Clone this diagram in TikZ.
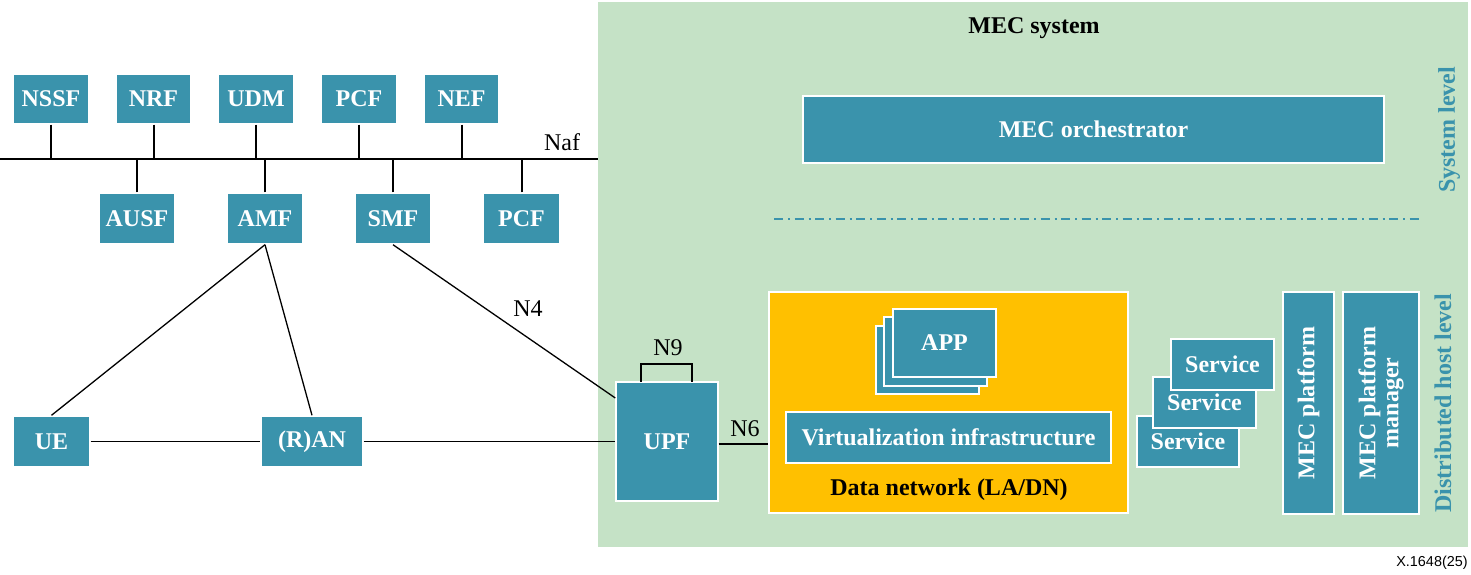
\documentclass[tikz,border=0pt]{standalone}
\usepackage{fontspec}
\setmainfont{Liberation Serif}
\newfontfamily\arialfont{Liberation Sans}
\usetikzlibrary{fit,calc}
\definecolor{mecteal}{HTML}{3A93AC}
\definecolor{mecgreen}{HTML}{C5E2C6}
\definecolor{mecorange}{HTML}{FFC000}
\tikzset{
  box/.style={fill=mecteal, draw=white, line width=0.7pt, inner sep=0pt},
  boxtext/.style={text=white, font=\fontsize{12}{12}\selectfont\bfseries, inner sep=0pt},
  bus/.style={line width=1pt, black},
  conn/.style={line width=0.65pt, black},
  lbl/.style={font=\fontsize{12}{12}\selectfont, inner sep=0pt},
  blbl/.style={font=\fontsize{12}{12}\selectfont\bfseries, inner sep=0pt},
  vlbl/.style={font=\fontsize{12}{12}\selectfont\bfseries, text=mecteal, rotate=90, inner sep=0pt},
  vbox/.style={font=\fontsize{12}{11.5}\selectfont\bfseries, text=white, rotate=90, inner sep=0pt, align=center}
}
\begin{document}
\begin{tikzpicture}[x=0.5pt,y=-0.5pt]
\useasboundingbox (0,0) rectangle (1471,574);
% MEC system background
\fill[mecgreen] (598,2) rectangle (1468,547);
\node[blbl] (mecsys) at (1034,28) {MEC system};

% top row
\node[box, fit={(13,74) (89,124)}, label={[boxtext]center:NSSF}] (nssf) {};
\node[box, fit={(116,74) (191,124)}, label={[boxtext]center:NRF}] (nrf) {};
\node[box, fit={(218,74) (294,124)}, label={[boxtext]center:UDM}] (udm) {};
\node[box, fit={(321,74) (397,124)}, label={[boxtext]center:PCF}] (pcfa) {};
\node[box, fit={(424,74) (499,124)}, label={[boxtext]center:NEF}] (nef) {};
% bottom row
\node[box, fit={(99,193) (175,244)}, label={[boxtext]center:AUSF}] (ausf) {};
\node[box, fit={(227,193) (303,244)}, label={[boxtext]center:AMF}] (amf) {};
\node[box, fit={(355,193) (431,244)}, label={[boxtext]center:SMF}] (smf) {};
\node[box, fit={(483,193) (560,244)}, label={[boxtext]center:PCF}] (pcfb) {};

% bus
\coordinate (busL) at (0,159);
\coordinate (busR) at (598,159);
\draw[bus] (busL) -- (busR);
\node[lbl] (naf) at (562,142) {Naf};
\foreach \n in {nssf,nrf,udm,pcfa,nef}{
  \draw[bus] (\n.south) -- (\n.south |- busL);
}
\foreach \n in {ausf,amf,smf,pcfb}{
  \draw[bus] (\n.north) -- (\n.north |- busL);
}

% access
\node[box, fit={(13,416) (90,467)}, label={[boxtext]center:UE}] (ue) {};
\node[box, fit={(261,416) (363,467)}, label={[boxtext]center:(R)AN}] (ran) {};
\node[box, fit={(616,382) (718,501)}, label={[boxtext]center:UPF}] (upf) {};

\draw[conn] (amf.south) -- (ue.north);
\draw[conn] (amf.south) -- (ran.north);
\draw[conn] (smf.south) -- ([yshift=21.75pt]upf.west);
\node[lbl] (n4) at (528,309) {N4};
\draw[conn] (ue.east) -- (ran.west);
\draw[conn] (ran.east) -- (upf.west);

% N9 loop
\coordinate (n9a) at (641,382);
\coordinate (n9b) at (692,382);
\draw[conn] (n9a) -- ++(0,-18) -| (n9b);
\node[lbl] (n9) at (668,348) {N9};

% data network
\node[box, fill=mecorange, fit={(769,292) (1128,513)}] (dn) {};
\node[blbl] (dnl) at (949,490) {Data network (LA/DN)};
\draw[conn] ([yshift=-1.2pt]upf.east) -- ([yshift=-1.2pt]upf.east -| dn.west);
\node[lbl] (n6) at (745,429) {N6};

\node[box, fit={(876,326) (979,394)}] (app3) {};
\node[box, fit={(884,317) (987,386)}] (app2) {};
\node[box, fit={(893,309) (996,377)}, label={[boxtext]center:APP}] (app1) {};
\node[box, fit={(786,412) (1111,463)}, label={[boxtext]center:Virtualization infrastructure}] (virt) {};

% services
\node[box, fit={(1137,416) (1239,467)}, label={[boxtext]center:Service}] (svc3) {};
\node[box, fit={(1153,377) (1256,428)}, label={[boxtext]center:Service}] (svc2) {};
\node[box, fit={(1171,339) (1274,390)}, label={[boxtext]center:Service}] (svc1) {};

% platform
\node[box, fit={(1283,292) (1334,514)}] (plat) {};
\node[vbox] (platl) at (plat.center) {MEC platform};
\node[box, fit={(1343,292) (1419,514)}] (pman) {};
\node[vbox] (pmanl) at (pman.center) {MEC platform\\manager};

% orchestrator
\node[box, fit={(803,96) (1384,163)}, label={[boxtext]center:MEC orchestrator}] (orch) {};

% level separator
\coordinate (sepL) at (774,219);
\coordinate (sepR) at (1419,219);
\draw[mecteal, line width=0.65pt, dash pattern=on 4.5pt off 2.5pt on 1pt off 2.25pt] (sepL) -- (sepR);

\node[vlbl] (syslvl) at (1449,130) {System level};
\node[vlbl] (hostlvl) at (1443,403) {Distributed host level};

\node[font=\arialfont\fontsize{7.2}{8}\selectfont, anchor=east, inner sep=0pt] (ref) at (1468,563) {X.1648(25)};
\end{tikzpicture}
\end{document}
